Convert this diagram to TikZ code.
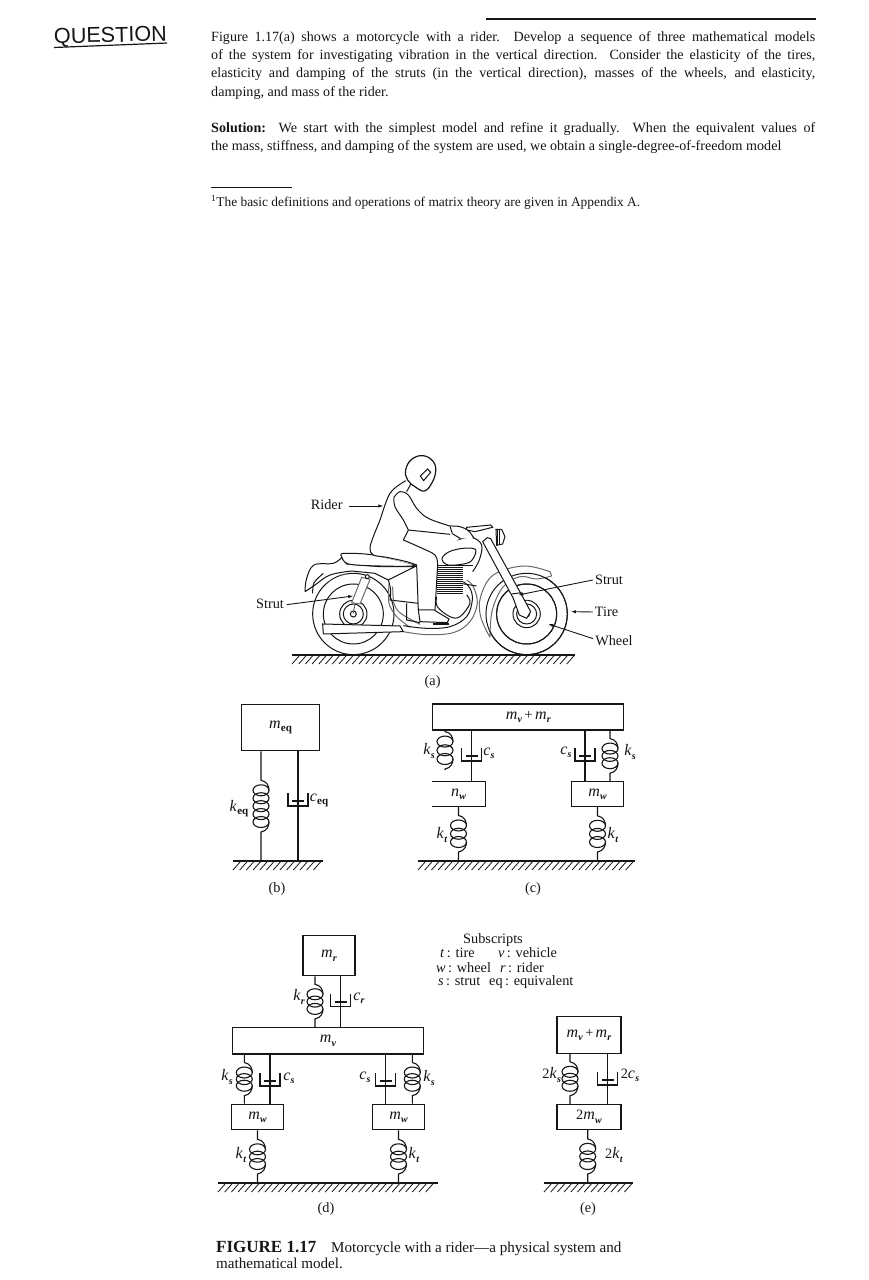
\documentclass[tikz,border=0pt]{standalone}
\usepackage{fontspec}
\setmainfont{Liberation Serif}
\newfontfamily\headfont{Liberation Sans}
\usetikzlibrary{positioning,arrows.meta,calc}
\definecolor{inkDark}{RGB}{22,22,22}
\definecolor{inkGray}{RGB}{105,105,105}
\newcommand{\sym}[2]{{\fontsize{16}{16}\selectfont\textit{#1}}\kern.2pt\raisebox{-.22em}{\fontsize{10}{10}\selectfont\textit{\textbf{#2}}}}
\newcommand{\symq}[2]{{\fontsize{16}{16}\selectfont\textit{#1}}\kern.2pt\raisebox{-.22em}{\fontsize{11}{11}\selectfont\textbf{#2}}}
\newcommand{\hatchfloor}[3]{%
  \draw[wire] (#1,#3) -- (#2,#3);
  \pgfmathtruncatemacro{\hcount}{(#2-#1-6)/6.7}
  \foreach \hi in {0,...,\hcount} \draw[hatchline] ({#1+6.7*\hi},#3+9) -- ({#1+6.7*\hi+8},#3);
}
% spring between two points: straight ends, shoulders, stacked loops
\newcommand{\coilspring}[4]{%
  \coordinate (cS) at (#1);
  \coordinate (cE) at (#2);
  \coordinate (cA) at ($(cS)+(0,#3)$);
  \coordinate (cB) at ($(cE)-(0,#3)$);
  \coordinate (cC) at ($(cA)+(0,10)$);
  \coordinate (cD) at ($(cB)-(0,10)$);
  \draw[wire] (cS) -- (cA) .. controls +(6,1) and +(0,-4) .. ($(cC)+(8,0)$);
  \draw[wire] (cE) -- (cB) .. controls +(6,-1) and +(0,4) .. ($(cD)+(8,0)$);
  \foreach \ci in {1,...,#4} {
    \pgfmathsetmacro{\cpos}{(\ci-1)/(#4-1)}
    \draw[wire] ($(cC)!\cpos!(cD)$) ellipse[x radius=8pt, y radius=5.5pt];
  }
}
\tikzset{
    base/.style={font=\fontsize{14.3}{16}\selectfont, text=inkDark, inner sep=0pt},
    wire/.style={draw=inkDark, line width=1.1pt},
    hatchline/.style={draw=inkDark, line width=0.8pt},
    massbox/.style={base, draw=inkDark, line width=1.1pt, fill=white},
    sublabel/.style={base},
    bodytext/.style={font=\fontsize{14.1}{18.3}\selectfont, text=inkDark, inner sep=0pt, anchor=north west, text width=604pt, align=justify},
    bike/.style={draw=inkDark, line width=1pt},
    bikegray/.style={draw=inkGray, line width=1pt},
    callout/.style={-{Latex[length=5pt,width=3.5pt]}, draw=inkDark, line width=0.9pt},
    cup/.pic={
      \draw[draw=inkDark, line width=1.1pt] (-10,-8) -- (-10,5) -- (10,5) -- (10,-8);
      \draw[draw=inkDark, line width=1.6pt] (-6,0) -- (6,0);
    }
}
\begin{document}
\begin{tikzpicture}[x=1pt,y=-1pt]
  \useasboundingbox (0,0) rectangle (868,1280);
  \fill[white] (0,0) rectangle (868,1280);

  % Page heading and text
  \node[font=\headfont\fontsize{21.6}{24}\selectfont, text=inkDark, inner sep=0pt, anchor=base west, rotate=1.3] (question) at (54,43.5) {QUESTION};
  \draw[draw=inkDark, line width=1.2pt] (54,47.5) -- (167,43);
  \draw[draw=inkDark, line width=1.2pt] (486,19) -- (816,19);
  \node[bodytext] (intro) at (211,31) {Figure 1.17(a) shows a motorcycle with a rider. Develop a sequence of three mathematical models\linebreak
    of the system for investigating vibration in the vertical direction. Consider the elasticity of the tires,\linebreak
    elasticity and damping of the struts (in the vertical direction), masses of the wheels, and elasticity,\linebreak
    damping, and mass of the rider.};
  \node[bodytext] (solution) at (211,122) {\textbf{Solution:}\, We start with the simplest model and refine it gradually. When the equivalent values of\linebreak
    the mass, stiffness, and damping of the system are used, we obtain a single-degree-of-freedom model};
  \draw[draw=inkDark, line width=1.1pt] (211,187.5) -- (292,187.5);
  \node[font=\fontsize{13.4}{14}\selectfont, text=inkDark, inner sep=0pt, anchor=base west] (footnote) at (211,206.5) {\textsuperscript{1}The basic definitions and operations of matrix theory are given in Appendix A.};

  % Motorcycle (a)
  \hatchfloor{292}{575}{655}
  \begin{scope}[shift={(240,440)},x=0.3333pt,y=-0.3333pt]
    % wheels
    \foreach \wr in {122,90,41,30,9} {
      \draw[bike] (340,522) circle[radius=\wr*0.3333pt];
      \draw[bike] (860,522) circle[radius=\wr*0.3333pt];
    }
    % rear mudguard and seat
    \draw[bike, fill=white] plot[smooth, tension=.6] coordinates {(195,455) (200,415) (222,375) (280,370) (305,352)} -- (320,372) -- (420,380) -- (525,380) -- (445,420) -- (405,400) -- (335,393) plot[smooth, tension=.6] coordinates {(335,393) (270,405) (225,435) (195,455)};
    \draw[bike, fill=white] plot[smooth, tension=.5] coordinates {(305,350) (310,340) (400,345) (525,376) (420,378) (325,372) (305,350)};
    \draw[bike] plot[smooth] coordinates {(218,460) (222,428) (250,400)};
    % rear strut
    \draw[bikegray, fill=white] (365,412) -- (390,418) -- (360,492) -- (335,488) -- cycle;
    \draw[bikegray] (345,490) -- (340,520);
    \draw[bike, fill=white] (382,410) circle[radius=2pt];
    % side panel
    \draw[bike] plot[smooth, tension=.6] coordinates {(445,420) (452,450) (450,480)} -- (535,490);
    % exhaust
    \draw[bikegray] plot[smooth] coordinates {(447,432) (447,490) (470,530) (510,562)};
    \draw[bikegray] plot[smooth] coordinates {(458,440) (462,490) (482,520) (540,553)};
    \draw[bikegray] plot[smooth, tension=.6] coordinates {(490,575) (560,584) (640,578) (690,545) (712,490) (700,440) (680,420)};
    \draw[bike] plot[smooth, tension=.6] coordinates {(490,557) (560,565) (630,560) (680,530) (697,480) (690,445) (670,425)};
    \draw[bike, fill=white] (248,552) -- (480,558) -- (490,575) -- (250,582) -- cycle;
    \draw[bike] (500,490) -- (500,540) -- (540,548);
    % engine
    \foreach \fy in {382,388,...,460} \draw[bike, line width=0.7pt] (592,\fy) -- (668,\fy);
    \draw[bike] plot[smooth, tension=.6] coordinates {(590,470) (592,500) (630,530) (660,530) (690,490) (680,465)};
    \draw[bike] (660,430) -- (710,438);
    % tank
    \draw[bike] plot[smooth, tension=.6] coordinates {(552,340) (590,315) (650,300) (695,292) (725,315) (718,360) (698,395)};
    \draw[bike] (590,378) -- (698,378);
    \draw[bike] plot[smooth cycle, tension=.6] coordinates {(606,356) (628,335) (670,325) (706,328) (700,355) (680,370) (625,375)};
    % front mudguard
    \draw[bikegray, fill=white] plot[smooth, tension=.6] coordinates {(750,592) (722,530) (722,470) (760,405) (850,378) (930,395)} -- (935,408) plot[smooth, tension=.6] coordinates {(935,408) (890,417) (840,410) (790,440) (757,510) (750,592)};
    \draw[bike] (860,522) circle[radius=122*0.3333pt];
    \draw[bike] (860,522) circle[radius=90*0.3333pt];
    % fork and headlamp
    \draw[bike, fill=white] (728,305) -- (742,293) -- (752,296) -- (845,465) -- (872,515) -- (860,535) -- (838,525) -- (820,475) -- cycle;
    \draw[bike] (815,462) -- (845,458);
    \draw[bike] (680,262) -- (752,255) -- (758,262) -- (705,275) -- (680,270) -- cycle;
    \draw[bike, fill=white] (768,268) -- (785,268) -- (795,290) -- (788,312) -- (770,316) -- cycle;
    \foreach \lx in {774,780} \draw[bike] (\lx,268) -- (\lx,315);
    % rider
    \fill[white] (497,122) -- (450,160) -- (390,325) -- (400,345) -- (530,375) -- (535,510) -- (585,510) -- (592,375) -- (585,345) -- (660,295) -- (700,295) -- (680,268) -- (630,258) -- (530,205) -- (515,120) -- cycle;
    \draw[bike] plot[smooth, tension=.6] coordinates {(497,122) (470,140) (450,160) (435,195) (420,240) (400,290) (390,325) (400,345) (440,352) (500,365) (530,375)} -- (535,510);
    \draw[bike] plot[smooth, tension=.6] coordinates {(490,300) (540,322) (585,345) (593,375)} -- (585,510);
    \draw[bike, fill=white] (535,510) -- (582,510) -- (627,537) -- (622,548) -- (540,545) -- cycle;
    \draw[bike, line width=1.6pt] (580,552) -- (628,552);
    \draw[bike] plot[smooth, tension=.6] coordinates {(462,172) (480,155) (505,165) (530,205) (565,235) (630,258)} -- (637,281);
    \draw[bike] plot[smooth, tension=.6] coordinates {(462,172) (465,200) (490,240) (505,270)} -- (630,283);
    \draw[bike] (505,270) -- (490,300);
    \draw[bike] plot[smooth, tension=.6] coordinates {(632,258) (660,260) (685,272) (702,295)};
    \draw[bike] (637,281) -- (662,296);
    \draw[bike] (518,122) -- (500,155);
    \draw[bike, fill=white, line width=1.2pt] plot[smooth cycle, tension=.7] coordinates {(497,90) (515,58) (550,47) (580,65) (587,95) (575,130) (553,153) (525,140) (503,120)};
    \draw[bike] (541,108) -- (563,87) -- (572,97) -- (551,122) -- cycle;
    % labels
    \node[sublabel] (lblRider) at (260,195) {Rider};
    \node[sublabel] (lblStrutL) at (90,492) {Strut};
    \node[sublabel] (lblStrutR) at (1107,420) {Strut};
    \node[sublabel] (lblTire) at (1100,516) {Tire};
    \node[sublabel] (lblWheel) at (1122,602) {Wheel};
    \node[sublabel] (capA) at (578,727) {(a)};
    \coordinate (tipRider) at (430,198);
    \coordinate (tipStrutL) at (340,468);
    \coordinate (tipStrutR) at (835,465);
    \coordinate (tipTire) at (993,515);
    \coordinate (tipWheel) at (925,552);
    \draw[callout] (lblRider.east) ++(20,3) -- (tipRider);
    \draw[callout] (lblStrutL.east) ++(8,2) -- (tipStrutL);
    \draw[callout] (lblStrutR.west) ++(-6,0) -- (tipStrutR);
    \draw[callout] (lblTire.west) ++(-6,0) -- (tipTire);
    \draw[callout] (lblWheel.west) ++(-6,-6) -- (tipWheel);
  \end{scope}

  % Model (b)
  \hatchfloor{233}{323}{861}
  \coordinate (gndB) at (278,861);
  \node[massbox, minimum width=78pt, minimum height=46.5pt] (meq) at (280.5,727.5) {\symq{m}{eq}};
  \coordinate (sprB) at (261,800);
  \coordinate (dmpB) at (298,801);
  \coilspring{meq.south -| sprB}{gndB -| sprB}{29}{5}
  \draw[wire] (meq.south -| dmpB) -- (gndB -| dmpB);
  \pic at (dmpB) {cup};
  \node[sublabel] (keq) at (239,809) {\symq{k}{eq}};
  \node[sublabel] (ceq) at (319,800) {\symq{c}{eq}};
  \node[sublabel] (capB) at (277,889) {(b)};

  % Model (c)
  \hatchfloor{418}{635}{861}
  \coordinate (gndC) at (528,861);
  \node[massbox, minimum width=191pt, minimum height=26pt] (mvrC) at (528.3,717) {\sym{m}{v}\,+\,\sym{m}{r}};
  \node[base, minimum width=53pt, minimum height=24.5pt] (mwCl) at (458.5,794) {\sym{n}{w}};
  \draw[draw=inkDark, line width=1.1pt] (mwCl.north west) -- (mwCl.north east) -- (mwCl.south east) -- (mwCl.south west);
  \node[massbox, minimum width=52pt, minimum height=24.5pt] (mwCr) at (597.5,794) {\sym{m}{w}};
  \coordinate (sprCl) at (445,760);
  \coordinate (endCl) at (445,770);
  \coordinate (dmpCl) at (471.5,756);
  \coordinate (dmpCr) at (585,756);
  \coordinate (sprCr) at (610,760);
  \coilspring{mvrC.south -| sprCl}{endCl}{1}{3}
  \coilspring{mvrC.south -| sprCr}{mwCr.north -| sprCr}{8}{3}
  \draw[wire] (mvrC.south -| dmpCl) -- (mwCl.north -| dmpCl);
  \draw[wire] (mvrC.south -| dmpCr) -- (mwCr.north -| dmpCr);
  \pic at (dmpCl) {cup};
  \pic at (dmpCr) {cup};
  \coilspring{mwCl.south}{gndC -| mwCl}{9}{3}
  \coilspring{mwCr.south}{gndC -| mwCr}{9}{3}
  \node[sublabel] (ksCl) at (429,751) {\sym{k}{s}};
  \node[sublabel] (csCl) at (489,753) {\sym{c}{s}};
  \node[sublabel] (csCr) at (566,752) {\sym{c}{s}};
  \node[sublabel] (ksCr) at (630,752) {\sym{k}{s}};
  \node[sublabel] (ktCl) at (442,835) {\sym{k}{t}};
  \node[sublabel] (ktCr) at (613,835) {\sym{k}{t}};
  \node[sublabel] (capC) at (533,889) {(c)};

  % Model (d)
  \hatchfloor{218}{438}{1183}
  \coordinate (gndD) at (328,1183);
  \node[massbox, minimum width=52pt, minimum height=40pt] (mrD) at (329,955.7) {\sym{m}{r}};
  \node[massbox, minimum width=191pt, minimum height=26.5pt] (mvD) at (328,1040.7) {\sym{m}{v}};
  \node[massbox, minimum width=52pt, minimum height=25.5pt] (mwDl) at (257.5,1117) {\sym{m}{w}};
  \node[massbox, minimum width=52pt, minimum height=25.5pt] (mwDr) at (398.5,1117) {\sym{m}{w}};
  \coordinate (sprDt) at (315,1000);
  \coordinate (dmpDt) at (340.7,1001.7);
  \coordinate (sprDl) at (244.3,1080);
  \coordinate (dmpDl) at (270,1081);
  \coordinate (dmpDr) at (385.7,1081);
  \coordinate (sprDr) at (412.3,1080);
  \coilspring{mrD.south -| sprDt}{mvD.north -| sprDt}{8}{3}
  \draw[wire] (mrD.south -| dmpDt) -- (mvD.north -| dmpDt);
  \pic at (dmpDt) {cup};
  \coilspring{mvD.south -| sprDl}{mwDl.north -| sprDl}{8}{3}
  \draw[wire] (mvD.south -| dmpDl) -- (mwDl.north -| dmpDl);
  \pic at (dmpDl) {cup};
  \draw[wire] (mvD.south -| dmpDr) -- (mwDr.north -| dmpDr);
  \pic at (dmpDr) {cup};
  \coilspring{mvD.south -| sprDr}{mwDr.north -| sprDr}{8}{3}
  \coilspring{mwDl.south}{gndD -| mwDl}{9}{3}
  \coilspring{mwDr.south}{gndD -| mwDr}{9}{3}
  \node[sublabel] (krD) at (299,997) {\sym{k}{r}};
  \node[sublabel] (crD) at (359,998) {\sym{c}{r}};
  \node[sublabel] (ksDl) at (227,1077) {\sym{k}{s}};
  \node[sublabel] (csDl) at (289,1078) {\sym{c}{s}};
  \node[sublabel] (csDr) at (365,1077) {\sym{c}{s}};
  \node[sublabel] (ksDr) at (429,1078) {\sym{k}{s}};
  \node[sublabel] (ktDl) at (241,1155) {\sym{k}{t}};
  \node[sublabel] (ktDr) at (414,1155) {\sym{k}{t}};
  \node[sublabel] (capD) at (326,1209) {(d)};

  % Subscript key
  \node[sublabel] (keyTitle) at (493,940) {Subscripts};
  \node[sublabel, anchor=west] (keyT) at (440,953) {\textit{t}\,: tire};
  \node[sublabel, anchor=west] (keyV) at (498,953) {\textit{v}\,: vehicle};
  \node[sublabel, anchor=west] (keyW) at (436,968) {\textit{w}\,: wheel};
  \node[sublabel, anchor=west] (keyR) at (500,968) {\textit{r}\,: rider};
  \node[sublabel, anchor=west] (keyS) at (438,982) {\textit{s}\,: strut};
  \node[sublabel, anchor=west] (keyE) at (489,982) {eq\,: equivalent};

  % Model (e)
  \hatchfloor{544}{633}{1183}
  \coordinate (gndE) at (588,1183);
  \node[massbox, minimum width=64pt, minimum height=36.5pt] (mvrE) at (589,1035) {\sym{m}{v}\,+\,\sym{m}{r}};
  \node[massbox, minimum width=64pt, minimum height=25pt] (mwE) at (589,1116.8) {2\sym{m}{w}};
  \coordinate (sprE) at (570,1080);
  \coordinate (dmpE) at (607.7,1080);
  \coilspring{mvrE.south -| sprE}{mwE.north -| sprE}{8}{3}
  \draw[wire] (mvrE.south -| dmpE) -- (mwE.north -| dmpE);
  \pic at (dmpE) {cup};
  \coordinate (sprEb) at (587.7,1150);
  \coilspring{mwE.south -| sprEb}{gndE -| sprEb}{9}{3}
  \node[sublabel] (ksE) at (551.7,1075) {2\sym{k}{s}};
  \node[sublabel] (csE) at (630,1075.7) {2\sym{c}{s}};
  \node[sublabel] (ktE) at (614,1155) {2\sym{k}{t}};
  \node[sublabel] (capE) at (588,1209) {(e)};

  % Caption
  \node[font=\fontsize{17}{18}\selectfont\bfseries, text=inkDark, inner sep=0pt, anchor=base west] (figNo) at (216,1252) {FIGURE 1.17};
  \node[font=\fontsize{15.1}{16}\selectfont, text=inkDark, inner sep=0pt, anchor=base west] (capLineA) at (331,1252) {Motorcycle with a rider—a physical system and};
  \node[font=\fontsize{15.1}{16}\selectfont, text=inkDark, inner sep=0pt, anchor=base west] (capLineB) at (216,1268) {mathematical model.};
\end{tikzpicture}
\end{document}
